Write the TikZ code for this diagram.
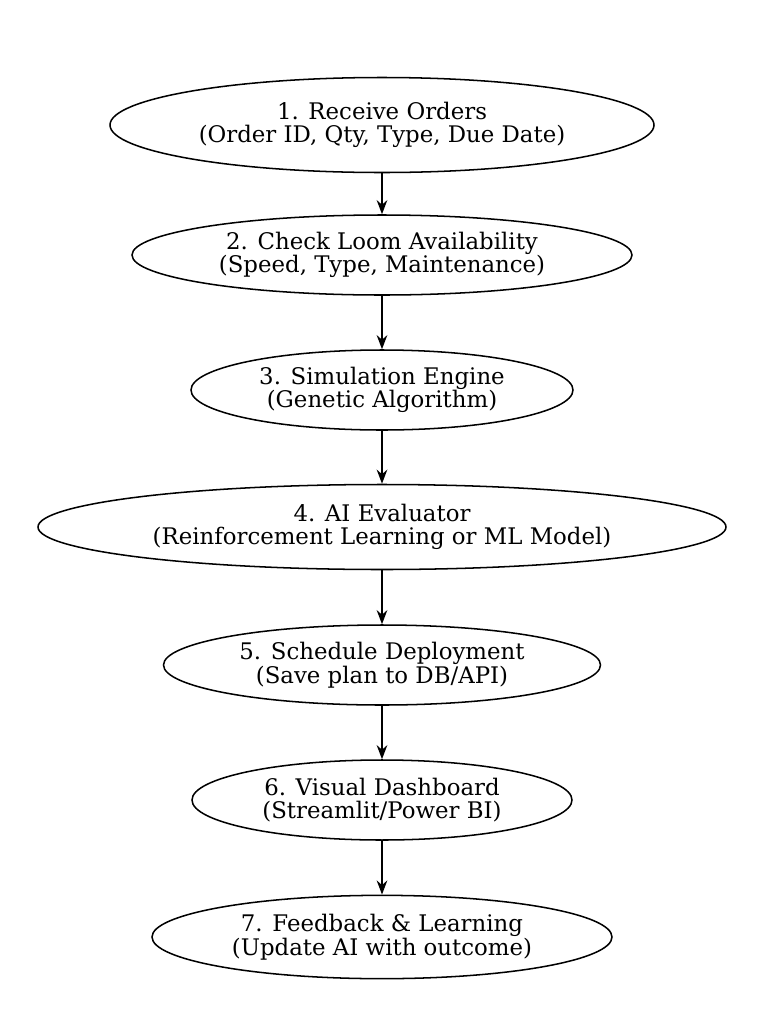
\documentclass[tikz,border=0pt]{standalone}
\usepackage{fontspec}
\setmainfont{DejaVu Serif}
\usetikzlibrary{shapes.geometric,arrows.meta}

\begin{document}
\begin{tikzpicture}[
    x=0.03cm, y=-0.03cm,
    every node/.style={ellipse, draw, line width=1.3pt, inner sep=0pt, align=center,
        font=\fontsize{19.5}{20}\selectfont},
    flow/.style={draw, line width=1.8pt, -{Stealth[length=12pt,width=9pt]}}
]
\useasboundingbox (0,0) rectangle (768,1024);

% Nodes
\node (1) [minimum width=16.32cm, minimum height=2.85cm] at (382,125) {1. Receive Orders\\(Order ID, Qty, Type, Due Date)};
\node (2) [minimum width=15cm, minimum height=2.4cm] at (382,255) {2. Check Loom Availability\\(Speed, Type, Maintenance)};
\node (3) [minimum width=11.46cm, minimum height=2.4cm] at (382,390) {3. Simulation Engine\\(Genetic Algorithm)};
\node (4) [minimum width=20.64cm, minimum height=2.55cm] at (382,527) {4. AI Evaluator\\(Reinforcement Learning or ML Model)};
\node (5) [minimum width=13.11cm, minimum height=2.4cm] at (382,665) {5. Schedule Deployment\\(Save plan to DB/API)};
\node (6) [minimum width=11.4cm, minimum height=2.4cm] at (382,800) {6. Visual Dashboard\\(Streamlit/Power BI)};
\node (7) [minimum width=13.8cm, minimum height=2.5cm] at (382,937) {7. Feedback \& Learning\\(Update AI with outcome)};

% Edges
\foreach \a/\b in {1/2,2/3,3/4,4/5,5/6,6/7}
    \draw[flow] (\a) -- (\b);

\end{tikzpicture}
\end{document}
